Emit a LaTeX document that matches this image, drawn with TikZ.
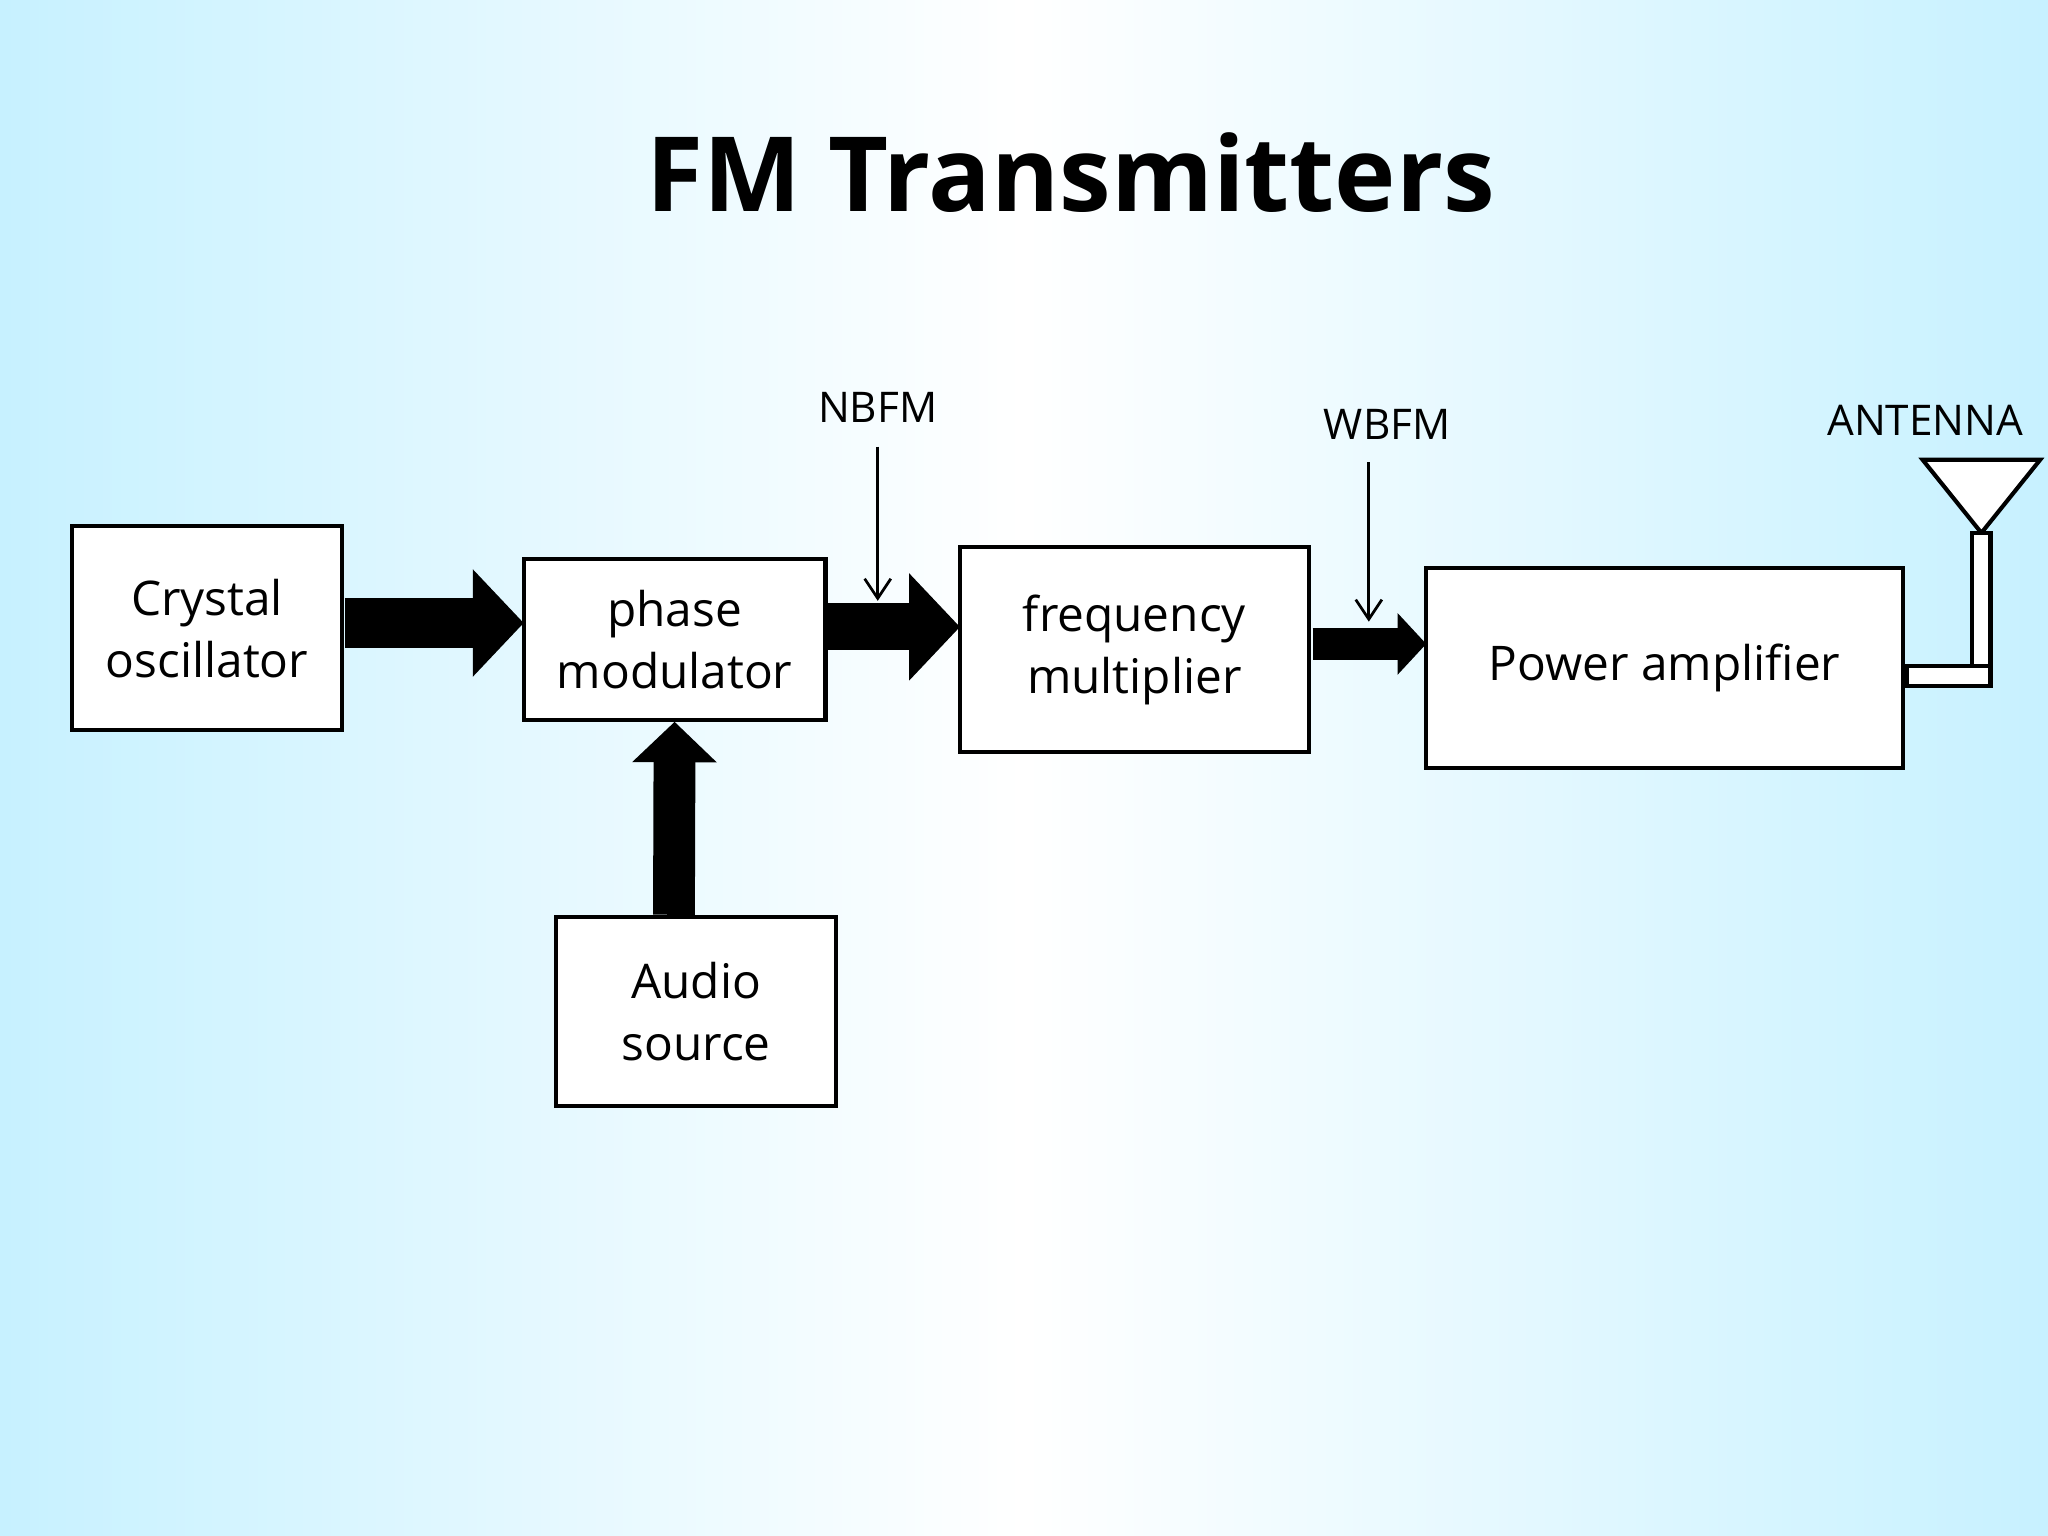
\documentclass[tikz,border=0pt]{standalone}
\usepackage{fontspec}
\setmainfont{Open Sans}
\usetikzlibrary{arrows.meta}
\begin{document}
\begin{tikzpicture}[x=0.01cm,y=-0.01cm,
  blk/.style={draw=black,line width=0.9pt,fill=white,align=center,font=\fontsize{10.4}{13.5}\selectfont,inner sep=0pt},
  fat/.style={line width=#1,-{Triangle[length=0.39cm,width=0.8cm]}},
  thin/.style={-{Straight Barb[length=0.15cm,width=0.2cm]},line width=0.6pt},
  lab/.style={font=\fontsize{9.2}{11}\selectfont}]
\shade[left color=blue!25!cyan!22,right color=blue!25!cyan!22,middle color=white] (0,0) rectangle (1568,1176);
\useasboundingbox (0,0) rectangle (1568,1176);
\node[font=\bfseries\fontsize{22.6}{27}\selectfont] (title) at (820,132) {FM Transmitters};
\node[blk,minimum width=2.07cm,minimum height=1.56cm] (crys) at (158.5,481) {Crystal\\oscillator};
\node[blk,minimum width=2.31cm,minimum height=1.23cm] (phase) at (516.5,489.5) {phase\\modulator};
\node[blk,minimum width=2.14cm,minimum height=1.45cm] (audio) at (533,774.5) {Audio\\source};
\node[blk,minimum width=2.67cm,minimum height=1.57cm] (freq) at (868.5,497.5) {frequency\\multiplier};
\node[blk,minimum width=3.65cm,minimum height=1.53cm] (pa) at (1274.5,511.5) {Power amplifier};
\coordinate (c1) at (264,477); \coordinate (c2) at (401,477);
\draw[fat=0.38cm] (c1) -- (c2);
\coordinate (p1) at (634,480); \coordinate (p2) at (735,480);
\draw[fat=0.36cm] (p1) -- (p2);
\coordinate (f1) at (1005,493); \coordinate (f2) at (1092,493);
\draw[line width=0.24cm,-{Triangle[length=0.22cm,width=0.46cm]}] (f1) -- (f2);
\draw[line width=0.32cm,-{Triangle[length=0.31cm,width=0.63cm]}] (audio.north -| 516,0) -- (phase.south);
\node[lab] (nb) at (672,312) {NBFM};
\coordinate (nbe) at (672,460);
\draw[thin] (672,342) -- (nbe);
\node[lab] (wb) at (1062,325) {WBFM};
\coordinate (wbe) at (1048,476);
\draw[thin] (1048,354) -- (wbe);
\node[lab] (ant) at (1474,322) {ANTENNA};
\draw[line width=0.9pt,fill=white] (1472,352) -- (1562,352) -- (1517,408) -- cycle;
\draw[line width=0.9pt,fill=white] (1510,408) rectangle (1524,517);
\draw[line width=0.9pt,fill=white] (1460,510) rectangle (1524,525);
\end{tikzpicture}
\end{document}
